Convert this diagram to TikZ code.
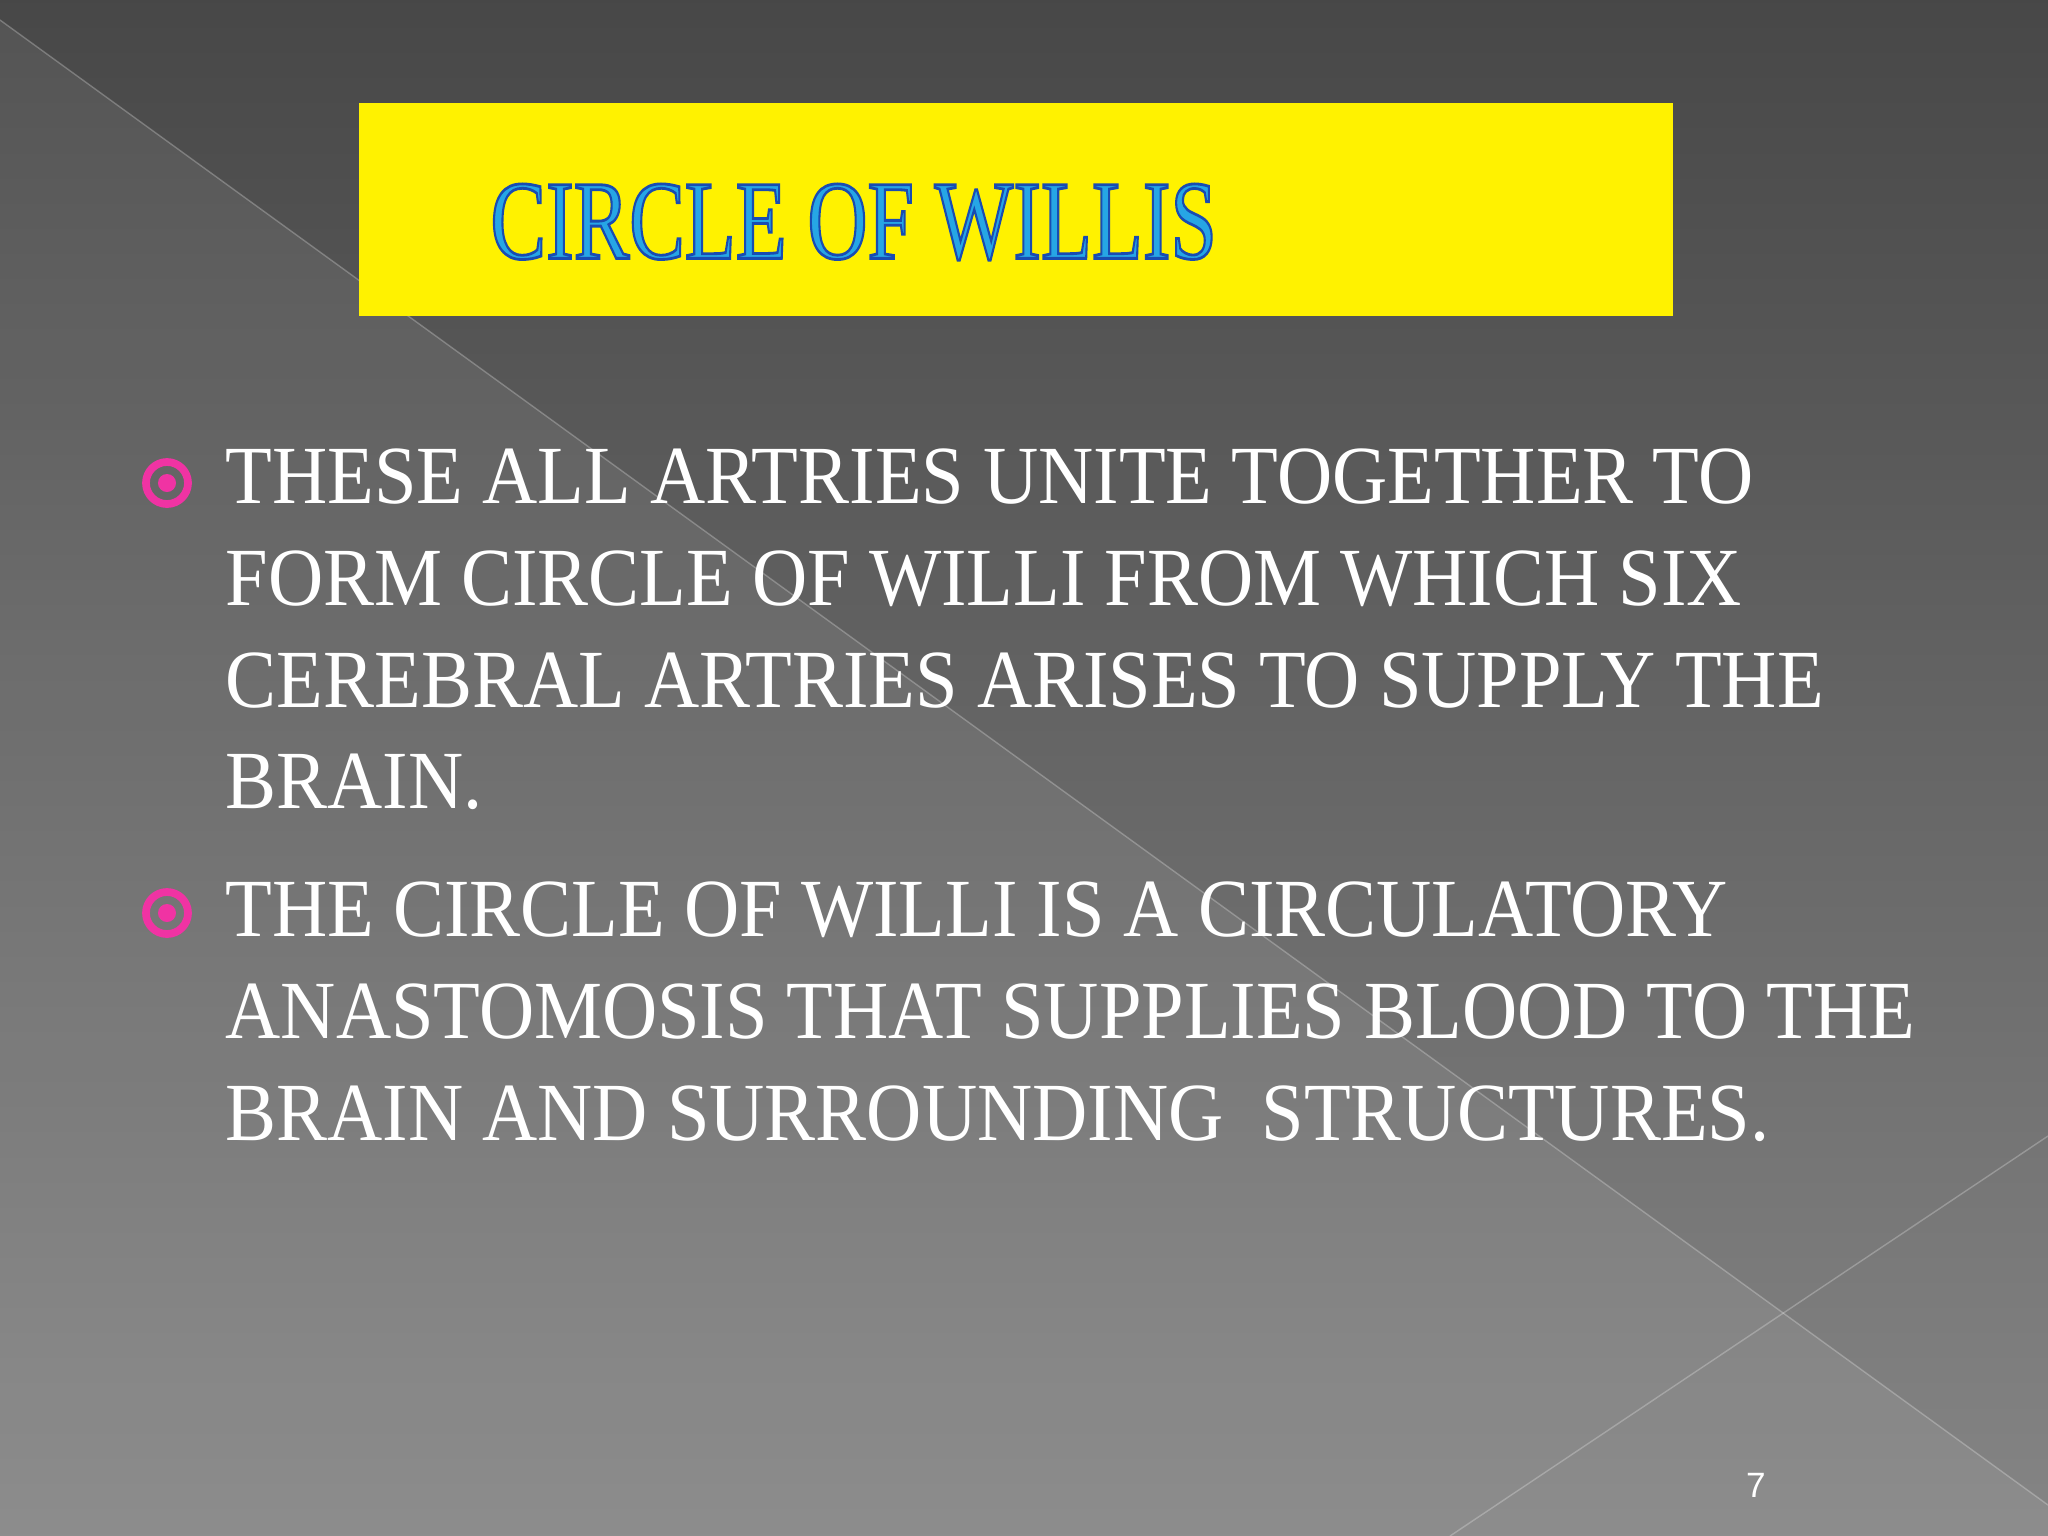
\documentclass[tikz,border=0pt]{standalone}
\usepackage{fontspec}
\setmainfont{Liberation Serif}
\newfontfamily\pnum{Liberation Sans}
\begin{document}
\begin{tikzpicture}[x=0.01cm,y=-0.01cm,
  line/.style={font=\fontsize{23.5}{24}\selectfont,text=white,anchor=base west,inner sep=0,xscale=0.925},
  bul/.style={circle,draw=magenta!80!white,line width=2.2pt,minimum size=0.42cm,inner sep=0}]
\useasboundingbox (0,0) rectangle (2048,1536);
\shade[top color=black!72,bottom color=black!48] (0,0) rectangle (2048,1536);
\fill[white,opacity=0.07] (0,20) -- (2048,1505) -- (2048,1536) -- (0,1536) -- cycle;
\draw[white,opacity=0.25] (0,20) -- (2048,1505);
\draw[white,opacity=0.25] (1450,1536) -- (2048,1136);
\node[fill=yellow,minimum width=13.14cm,minimum height=2.13cm,anchor=north west,inner sep=0] (box) at (358,102) {};
\node[anchor=west,inner sep=0,font=\fontsize{32}{32}\selectfont,xscale=0.74] (title) at (490,222) {\special{pdf:literal 2 Tr 0.8 w 0.1 0.3 0.7 RG 0.15 0.65 0.9 rg}CIRCLE OF WILLIS\special{pdf:literal 0 Tr}};
\node[bul] (b1) at (167,483) {};
\fill[magenta!80!white] (b1) circle (0.09cm);
\node[bul] (b2) at (167,913) {};
\fill[magenta!80!white] (b2) circle (0.09cm);
\node[line] (l1) at (225,503) {THESE ALL ARTRIES UNITE TOGETHER TO};
\node[line] (l2) at (225,605) {FORM CIRCLE OF WILLI FROM WHICH SIX};
\node[line] (l3) at (225,707) {CEREBRAL ARTRIES ARISES TO SUPPLY THE};
\node[line] (l4) at (225,808) {BRAIN.};
\node[line] (l5) at (225,936) {THE CIRCLE OF WILLI IS A CIRCULATORY};
\node[line] (l6) at (225,1038) {ANASTOMOSIS THAT SUPPLIES BLOOD TO THE};
\node[line] (l7) at (225,1140) {BRAIN AND SURROUNDING\ \ STRUCTURES.};
\node[anchor=base,text=white,font=\pnum\fontsize{10}{10}\selectfont] (pg) at (1756,1497) {7};
\end{tikzpicture}
\end{document}
